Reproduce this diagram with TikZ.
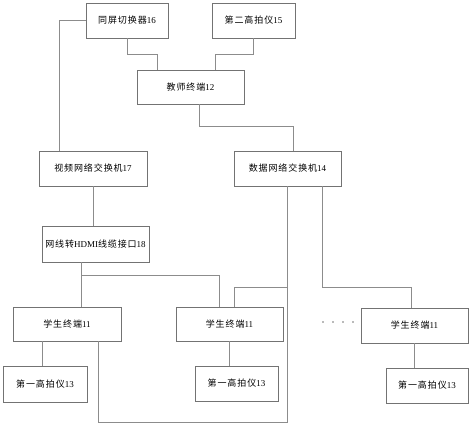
\documentclass[tikz,border=0pt]{standalone}
\usepackage{fontspec}
\setmainfont{Liberation Serif}
\newfontfamily\cjk[LetterSpace=10]{Noto Sans CJK SC}

\begin{document}
\begin{tikzpicture}[x = 1pt, y = -1pt,
    box/.style = {draw = black!55, line width = .7pt, inner sep = 0pt,
      minimum height = 35pt, font = \fontsize{9}{10}\selectfont},
    link/.style = {draw = black!45, line width = .7pt}]
    \useasboundingbox (0,0) rectangle (474,428);
    % top row
    \node [box, minimum width = 82pt] (sync) at (127,20.5) {{\cjk 同屏切换器}16};
    \node [box, minimum width = 83pt] (cam2) at (253.5,20.5) {{\cjk 第二高拍仪}15};
    \node [box, minimum width = 107pt, minimum height = 34pt] (teacher) at (190.5,87) {{\cjk 教师终端}12};
    % switches
    \node [box, minimum width = 108pt] (vswitch) at (93,168.5) {{\cjk 视频网络交换机}17};
    \node [box, minimum width = 107pt] (dswitch) at (287.5,168.5) {{\cjk 数据网络交换机}14};
    \node [box, minimum width = 107pt, minimum height = 36pt] (hdmi) at (95.5,244) {{\cjk 网线转}HDMI{\cjk 线缆接口}18};
    % students
    \node [box, minimum width = 108pt, minimum height = 34pt] (stu1) at (67,324) {{\cjk 学生终端}11};
    \node [box, minimum width = 107pt, minimum height = 34pt] (stu2) at (229.5,324) {{\cjk 学生终端}11};
    \node [box, minimum width = 107pt] (stu3) at (414.5,325.5) {{\cjk 学生终端}11};
    \node [box, minimum width = 84pt, minimum height = 36pt] (cam1a) at (45,384) {{\cjk 第一高拍仪}13};
    \node [box, minimum width = 83pt] (cam1b) at (236.5,383.5) {{\cjk 第一高拍仪}13};
    \node [box, minimum width = 82pt] (cam1c) at (427,385.5) {{\cjk 第一高拍仪}13};
    \coordinate (hsplit) at (81,275);
    \coordinate (dsplit) at (288,287);
    \coordinate (esplit) at (322,287);
    % links
    \draw [link] (sync.south) -- ++(0,16) -| ([xshift=-33.5]teacher.north);
    \draw [link] (cam2.south) -- ++(0,16) -| ([xshift=24.5]teacher.north);
    \draw [link] ([xshift=8.5]teacher.south) -- ++(0,22) -| ([xshift=5.5]dswitch.north);
    \draw [link] (sync.west) -| ([xshift=-34]vswitch.north);
    \draw [link] (vswitch.south) -- (vswitch.south |- hdmi.north);
    \draw [link] ([xshift=-14.5]hdmi.south) -- ([xshift=14]stu1.north);
    \draw [link] (hsplit) -| ([xshift=-10.5]stu2.north);
    \draw [link] (dswitch.south) -- ++(0,236) -| ([xshift=31]stu1.south);
    \draw [link] (dsplit) -| ([xshift=4.5]stu2.north);
    \draw [link] ([xshift=34.5]dswitch.south) -- (esplit) -| ([xshift=-3.5]stu3.north);
    \draw [link] ([xshift=-25]stu1.south) -- ([xshift=-25]stu1.south |- cam1a.north);
    \draw [link] (stu2.south) -- (stu2.south |- cam1b.north);
    \draw [link] (stu3.south) -- (stu3.south |- cam1c.north);
    \foreach \x in {323,333,343,353} {
      \fill [black!55] (\x,322) circle (.9);
    }
  \end{tikzpicture}
\end{document}
